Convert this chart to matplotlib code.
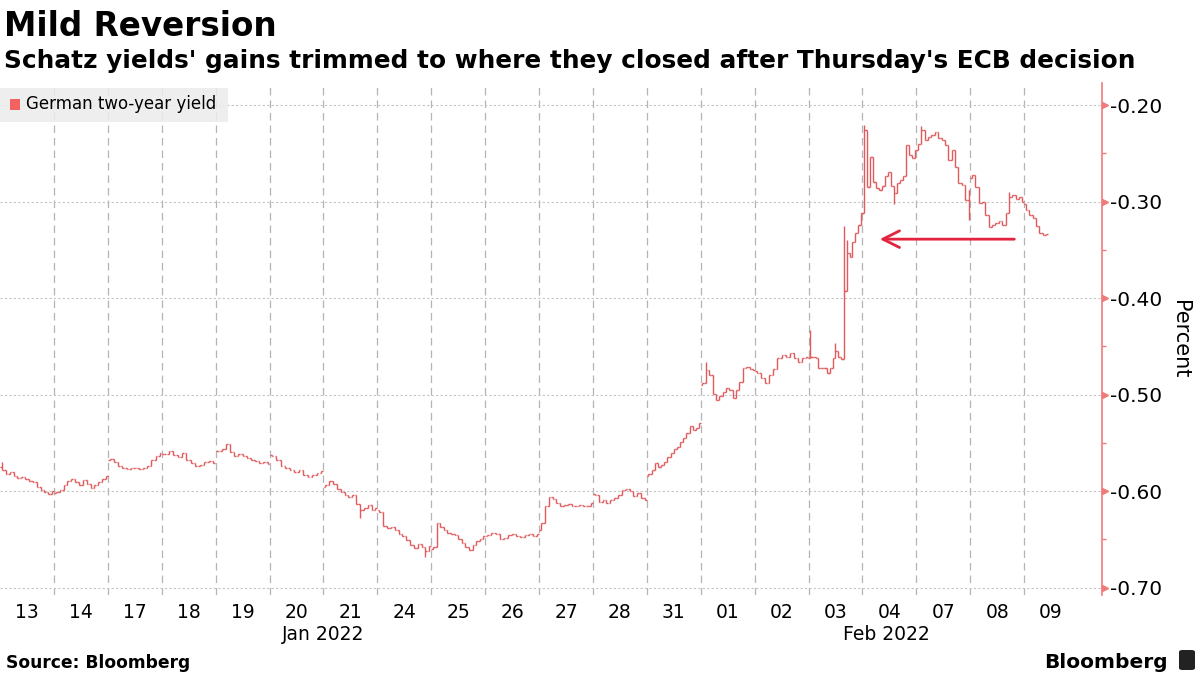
import matplotlib.pyplot as plt
from matplotlib.patches import FancyBboxPatch, Rectangle
from matplotlib.transforms import blended_transform_factory

# trading days on the x axis
day_labels = ['13', '14', '17', '18', '19', '20', '21', '24', '25', '26', '27', '28',
              '31', '01', '02', '03', '04', '07', '08', '09']
month_labels = ['Jan 2022', 'Feb 2022']
month_pos = [6.0, 16.45]

# open of the first bar of each day
day_open = [-0.575, -0.602, -0.568, -0.562, -0.558, -0.563, -0.596, -0.620, -0.660, -0.647,
            -0.640, -0.603, -0.584, -0.490, -0.476, -0.462, -0.312, -0.247, -0.276, -0.303]

# intraday closes, one list per day (German 2y yield, %)
closes = [
    [-0.578, -0.582, -0.580, -0.584, -0.586, -0.585, -0.588, -0.590, -0.591, -0.596, -0.599, -0.601, -0.603, -0.600],
    [-0.601, -0.599, -0.594, -0.590, -0.588, -0.591, -0.594, -0.589, -0.593, -0.597, -0.594, -0.591, -0.588, -0.584],
    [-0.567, -0.570, -0.574, -0.576, -0.577, -0.576, -0.576, -0.577, -0.576, -0.574, -0.568, -0.564, -0.561],
    [-0.562, -0.559, -0.563, -0.565, -0.561, -0.568, -0.571, -0.574, -0.573, -0.570, -0.569, -0.571],
    [-0.559, -0.556, -0.551, -0.560, -0.564, -0.562, -0.564, -0.566, -0.568, -0.569, -0.571, -0.570, -0.572],
    [-0.564, -0.568, -0.574, -0.576, -0.578, -0.580, -0.578, -0.583, -0.585, -0.583, -0.581, -0.579],
    [-0.594, -0.590, -0.593, -0.598, -0.601, -0.604, -0.606, -0.604, -0.613, -0.620, -0.618, -0.614, -0.620, -0.618],
    [-0.622, -0.636, -0.638, -0.637, -0.640, -0.644, -0.647, -0.651, -0.656, -0.659, -0.655, -0.658, -0.662, -0.657],
    [-0.658, -0.633, -0.637, -0.640, -0.643, -0.645, -0.646, -0.650, -0.654, -0.658, -0.661, -0.656, -0.652, -0.650, -0.647],
    [-0.646, -0.643, -0.645, -0.650, -0.649, -0.646, -0.645, -0.647, -0.648, -0.646, -0.645, -0.647, -0.644],
    [-0.633, -0.616, -0.606, -0.608, -0.612, -0.616, -0.614, -0.613, -0.616, -0.615, -0.614, -0.615, -0.616, -0.612],
    [-0.604, -0.611, -0.609, -0.612, -0.609, -0.607, -0.604, -0.599, -0.598, -0.600, -0.605, -0.602, -0.607, -0.609],
    [-0.582, -0.578, -0.571, -0.575, -0.573, -0.570, -0.565, -0.561, -0.556, -0.554, -0.549, -0.545, -0.540, -0.533, -0.537, -0.535, -0.530],
    [-0.488, -0.475, -0.480, -0.499, -0.506, -0.502, -0.497, -0.493, -0.495, -0.504, -0.495, -0.487, -0.473, -0.471, -0.474, -0.475],
    [-0.478, -0.483, -0.488, -0.480, -0.474, -0.462, -0.459, -0.461, -0.457, -0.462, -0.466, -0.462, -0.461],
    [-0.461, -0.461, -0.462, -0.472, -0.472, -0.473, -0.478, -0.472, -0.462, -0.455, -0.461, -0.463, -0.393, -0.353, -0.357, -0.342, -0.333, -0.324, -0.312],
    [-0.226, -0.285, -0.254, -0.280, -0.286, -0.288, -0.284, -0.274, -0.269, -0.284, -0.291, -0.281, -0.278, -0.274, -0.241, -0.252, -0.255, -0.247],
    [-0.240, -0.226, -0.236, -0.233, -0.231, -0.228, -0.234, -0.236, -0.241, -0.257, -0.247, -0.264, -0.281, -0.283, -0.298, -0.288],
    [-0.273, -0.285, -0.302, -0.300, -0.314, -0.326, -0.324, -0.322, -0.320, -0.324, -0.312, -0.295, -0.293, -0.297, -0.295, -0.300],
    [-0.309, -0.314, -0.317, -0.325, -0.333, -0.335, -0.334],
]

# bars whose high/low reach beyond open and close: (day, bar, high, low)
wicks = [
    (0, 0, -0.570, None),
    (6, 9, None, -0.628),
    (7, 12, None, -0.668),
    (13, 1, -0.466, None),
    (15, 0, -0.433, None),
    (15, 9, -0.447, None),
    (15, 12, -0.325, None),
    (15, 13, -0.340, None),
    (16, 0, -0.221, None),
    (16, 10, None, -0.303),
    (17, 1, -0.222, None),
    (17, 15, None, -0.319),
    (18, 11, -0.290, None),
]

arrow_level = -0.339
arrow_from, arrow_to = 18.87, 16.27

red = '#e05a5c'
axis_red = '#f07a7a'

fig = plt.figure(figsize=(12, 6.75), dpi=100)
ax = fig.add_axes([0.0, 1 - 595 / 675, 1102 / 1200, (595 - 83) / 675])

# build OHLC bars
xs, op, hi, lo, cl = [], [], [], [], []
for d, day in enumerate(closes):
    step = 1.0 / len(day) if d < len(closes) - 1 else 1.0 / 16
    prev = day_open[d]
    for i, c in enumerate(day):
        xs.append(d + (i + 0.5) * step)
        op.append(prev)
        cl.append(c)
        hi.append(max(prev, c))
        lo.append(min(prev, c))
        prev = c

starts = [0]
for day in closes:
    starts.append(starts[-1] + len(day))
for d, b, h, l in wicks:
    k = starts[d] + b
    if h is not None:
        hi[k] = max(hi[k], h)
    if l is not None:
        lo[k] = min(lo[k], l)

tw = 0.03
ax.vlines(xs, lo, hi, color=red, lw=1.0, zorder=3)
ax.hlines(op, [x - tw for x in xs], xs, color=red, lw=1.0, zorder=3)
ax.hlines(cl, xs, [x + tw for x in xs], color=red, lw=1.0, zorder=3)

# arrow
ax.annotate('', xy=(arrow_to, arrow_level), xytext=(arrow_from, arrow_level),
            arrowprops=dict(arrowstyle='->', color='#e4233e', lw=2, mutation_scale=30),
            zorder=4)

ax.set_xlim(-0.002, 1102 / 53.9)
ax.set_ylim(-0.7077, -0.1772)

ax.set_xticks([d + 0.5 for d in range(len(day_labels))])
ax.set_xticklabels(day_labels, fontsize=13.5)
ax.set_xticks(range(1, len(day_labels)), minor=True)
ax.tick_params(axis='x', which='both', length=0, pad=6)
ax.grid(axis='x', which='minor', color='#b4b4b4', ls=(0, (6, 4)), lw=0.9)

yt = [-0.7, -0.6, -0.5, -0.4, -0.3, -0.2]
ax.set_yticks(yt)
ax.set_yticklabels(['%.2f' % v for v in yt], fontsize=14.5)
ax.set_yticks([-0.65, -0.55, -0.45, -0.35, -0.25], minor=True)
ax.yaxis.tick_right()
ax.yaxis.set_label_position('right')
ax.tick_params(axis='y', which='major', length=0, pad=6)
ax.tick_params(axis='y', which='minor', length=3, color=axis_red, width=1)
ax.grid(axis='y', which='major', color='#c4c4c4', ls=(0, (2, 2)), lw=0.8)
ax.set_ylabel('Percent', fontsize=15, rotation=270, labelpad=20)

trans = blended_transform_factory(ax.transAxes, ax.transData)
ax.plot([1.003] * len(yt), yt, marker='>', ms=5, color=axis_red, ls='none',
        transform=trans, clip_on=False, zorder=5)

for s in ['top', 'left', 'bottom']:
    ax.spines[s].set_visible(False)
ax.spines['right'].set_color(axis_red)
ax.spines['right'].set_linewidth(1.2)

for lab, pos in zip(month_labels, month_pos):
    ax.text(pos, -0.077, lab, transform=blended_transform_factory(ax.transData, ax.transAxes),
            ha='center', va='center', fontsize=13.5)

# legend box
fig.patches.append(Rectangle((0, 1 - 122 / 675), 228 / 1200, 34 / 675, transform=fig.transFigure,
                             facecolor='#ececec', alpha=0.85, edgecolor='none', zorder=5))
fig.patches.append(Rectangle((10 / 1200, 1 - 110 / 675), 10 / 1200, 11 / 675, transform=fig.transFigure,
                             facecolor='#f26262', edgecolor='none', zorder=6))
fig.text(26 / 1200, 1 - 104 / 675, 'German two-year yield', fontsize=12, va='center', zorder=7)

# titles
fig.text(0.003, 1 - 36 / 675, 'Mild Reversion', fontsize=23.5, weight='bold', va='baseline')
fig.text(0.003, 1 - 68 / 675, "Schatz yields' gains trimmed to where they closed after Thursday's ECB decision",
         fontsize=17.8, weight='bold', va='baseline')

# footer
fig.text(0.005, 1 - 668 / 675, 'Source: Bloomberg', fontsize=12.3, weight='bold', va='baseline')
fig.text(1168 / 1200, 1 - 668 / 675, 'Bloomberg', fontsize=14.5, weight='bold', va='baseline', ha='right')
fig.patches.append(FancyBboxPatch((1179 / 1200, 1 - 670 / 675), 16 / 1200, 20 / 675,
                                  boxstyle='round,pad=0.0,rounding_size=0.003',
                                  transform=fig.transFigure, facecolor='#222222', edgecolor='none'))

fig.savefig('out.png', dpi=100)
